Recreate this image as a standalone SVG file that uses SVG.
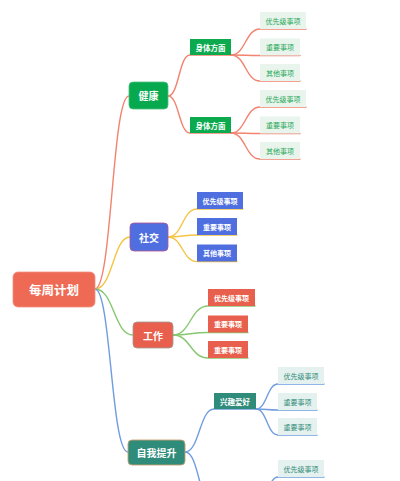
<svg xmlns="http://www.w3.org/2000/svg" width="400" height="481" viewBox="0 0 400 481">
<style>
text{font-family:"Noto Sans CJK SC","Noto Sans",sans-serif;text-anchor:middle;dominant-baseline:central}
.main{font-size:10px;font-weight:bold;fill:#fff}
.sub{font-size:7.5px;font-weight:bold;fill:#fff}
.leaf{font-size:7px}
.c{fill:none;stroke-width:1.4;stroke-linecap:round}
.red{stroke:#F2836F}.yel{stroke:#F5C445}.grn{stroke:#86C86F}.blu{stroke:#6F9DE0}
</style>
<rect width="400" height="481" fill="#fff"/>
<g id="connectors">
  <path class="c red" d="M95,289 C112,289 112,96 129,96"/>
  <path class="c yel" d="M95,289 C113,289 113,237 130,237"/>
  <path class="c grn" d="M95,289 C114,289 114,335 133,335"/>
  <path class="c blu" d="M95,289 C111,289 111,452 128,452"/>
  <path class="c red" d="M168,96 C179,96 179,55 190,55 L231,55"/>
  <path class="c red" d="M168,96 C179,96 179,133 190,133 L231,133"/>
  <path class="c red" d="M231,55 C245.5,55 245.5,29 260,29 L306,29"/>
  <path class="c red" d="M231,55 C245.5,55 245.5,55.5 260,55.5 L300,55.5"/>
  <path class="c red" d="M231,55 C245.5,55 245.5,81 260,81 L300,81"/>
  <path class="c red" d="M231,133 C245.5,133 245.5,107 260,107 L306,107"/>
  <path class="c red" d="M231,133 C245.5,133 245.5,133.5 260,133.5 L300,133.5"/>
  <path class="c red" d="M231,133 C245.5,133 245.5,159 260,159 L300,159"/>
  <path class="c yel" d="M168,237 C182.5,237 182.5,209 197,209 L243,209"/>
  <path class="c yel" d="M168,237 C182.5,237 182.5,235 197,235 L237,235"/>
  <path class="c yel" d="M168,237 C182.5,237 182.5,261.5 197,261.5 L237,261.5"/>
  <path class="c grn" d="M173,335 C190.5,335 190.5,306 208,306 L255,306"/>
  <path class="c grn" d="M173,335 C190.5,335 190.5,332.5 208,332.5 L248,332.5"/>
  <path class="c grn" d="M173,335 C190.5,335 190.5,358 208,358 L248,358"/>
  <path class="c blu" d="M185,452 C199.5,452 199.5,409 214,409 L256,409"/>
  <path class="c blu" d="M185,452 C199.5,452 199.5,509 214,509 L256,509"/>
  <path class="c blu" d="M256,409 C267,409 267,384 278,384 L324,384"/>
  <path class="c blu" d="M256,409 C267,409 267,410 278,410 L317,410"/>
  <path class="c blu" d="M256,409 C267,409 267,435 278,435 L317,435"/>
  <path class="c blu" d="M256,509 C267,509 267,477 278,477 L324,477"/>
</g>
<g id="root">
  <rect x="13" y="272" width="82" height="35" rx="5" fill="#EE6A55" stroke="#F29080" stroke-width="0.8"/>
  <text x="54" y="289.5" style="font-size:12.5px;font-weight:bold;fill:#fff">每周计划</text>
</g>
<g id="jiankang">
  <rect x="129" y="82" width="39" height="27" rx="4" fill="#07A94F" stroke="#4CC082" stroke-width="0.8"/>
  <text class="main" x="148.5" y="95.5">健康</text>
</g>
<g id="shenti1">
  <rect x="190" y="39" width="41" height="16" fill="#0BAA4F"/>
  <text class="sub" x="210.5" y="47">身体方面</text>
</g>
<g id="shenti2">
  <rect x="190" y="117" width="41" height="16" fill="#0BAA4F"/>
  <text class="sub" x="210.5" y="125">身体方面</text>
</g>
<g id="jk-leaves" fill="#E8F4EC">
  <g id="jk1a"><rect x="260" y="12" width="46" height="17"/><text class="leaf" x="283" y="20.5" fill="#1FA858">优先级事项</text></g>
  <g id="jk1b"><rect x="260" y="38.5" width="40" height="17"/><text class="leaf" x="280" y="47" fill="#1FA858">重要事项</text></g>
  <g id="jk1c"><rect x="260" y="64" width="40" height="17"/><text class="leaf" x="280" y="72.5" fill="#1FA858">其他事项</text></g>
  <g id="jk2a"><rect x="260" y="90" width="46" height="17"/><text class="leaf" x="283" y="98.5" fill="#1FA858">优先级事项</text></g>
  <g id="jk2b"><rect x="260" y="116.5" width="40" height="17"/><text class="leaf" x="280" y="125" fill="#1FA858">重要事项</text></g>
  <g id="jk2c"><rect x="260" y="142" width="40" height="17"/><text class="leaf" x="280" y="150.5" fill="#1FA858">其他事项</text></g>
</g>
<g id="shejiao">
  <rect x="130" y="223" width="38" height="28" rx="4" fill="#4F6FE0" stroke="#B4538F" stroke-width="0.8"/>
  <text class="main" x="149" y="237">社交</text>
</g>
<g id="sj-leaves" fill="#4F6FE0">
  <g id="sj1"><rect x="197" y="192" width="46" height="17"/><text class="leaf" x="220" y="200.5" fill="#fff" font-weight="bold">优先级事项</text></g>
  <g id="sj2"><rect x="197" y="218" width="40" height="17"/><text class="leaf" x="217" y="226.5" fill="#fff" font-weight="bold">重要事项</text></g>
  <g id="sj3"><rect x="197" y="244.5" width="40" height="17"/><text class="leaf" x="217" y="253" fill="#fff" font-weight="bold">其他事项</text></g>
</g>
<g id="gongzuo">
  <rect x="133" y="322" width="40" height="26" rx="4" fill="#E8604D" stroke="#A09A98" stroke-width="0.8"/>
  <text class="main" x="153" y="335">工作</text>
</g>
<g id="gz-leaves" fill="#E8604D">
  <g id="gz1"><rect x="208" y="289" width="47" height="17"/><text class="leaf" x="231.5" y="297.5" fill="#fff" font-weight="bold">优先级事项</text></g>
  <g id="gz2"><rect x="208" y="315.5" width="40" height="17"/><text class="leaf" x="228" y="324" fill="#fff" font-weight="bold">重要事项</text></g>
  <g id="gz3"><rect x="208" y="341" width="40" height="17"/><text class="leaf" x="228" y="349.5" fill="#fff" font-weight="bold">重要事项</text></g>
</g>
<g id="ziwo">
  <rect x="128" y="440" width="57" height="25" rx="4" fill="#2F8B7A" stroke="#C8A070" stroke-width="0.9"/>
  <text class="main" x="156.5" y="452.5">自我提升</text>
</g>
<g id="xingqu">
  <rect x="214" y="393" width="42" height="16" fill="#2F8B7A"/>
  <text class="sub" x="235" y="401">兴趣爱好</text>
</g>
<g id="zw-leaves" fill="#E5F1EE">
  <g id="zw1"><rect x="278" y="367" width="46" height="17"/><text class="leaf" x="301" y="375.5" fill="#2F8B7A">优先级事项</text></g>
  <g id="zw2"><rect x="278" y="393" width="39" height="17"/><text class="leaf" x="297.5" y="401.5" fill="#2F8B7A">重要事项</text></g>
  <g id="zw3"><rect x="278" y="418" width="39" height="17"/><text class="leaf" x="297.5" y="426.5" fill="#2F8B7A">重要事项</text></g>
  <g id="zw4"><rect x="278" y="460" width="46" height="17"/><text class="leaf" x="301" y="468.5" fill="#2F8B7A">优先级事项</text></g>
</g>
</svg>
